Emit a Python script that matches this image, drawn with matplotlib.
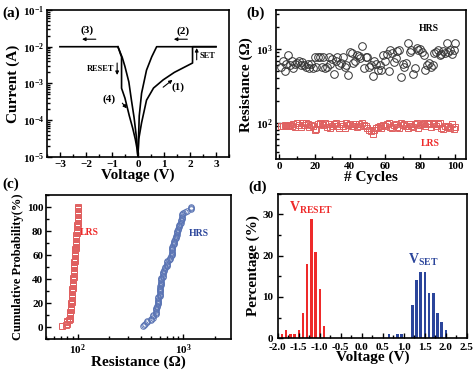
import numpy as np
import matplotlib
matplotlib.use("Agg")
import matplotlib.pyplot as plt
from matplotlib.ticker import FixedLocator, FuncFormatter, MultipleLocator, LogLocator, NullFormatter

plt.rcParams['font.family'] = ['Liberation Serif', 'DejaVu Serif']
plt.rcParams['font.weight'] = 'bold'
plt.rcParams['axes.labelweight'] = 'bold'
plt.rcParams['mathtext.fontset'] = 'custom'
plt.rcParams['mathtext.rm'] = 'Liberation Serif'
plt.rcParams['mathtext.bf'] = 'Liberation Serif:bold'
plt.rcParams['axes.linewidth'] = 1.2

# ---- (a) I-V curves ----
set_v = [0.0, 0.03, 0.14, 0.33, 0.6, 0.97, 1.4, 1.8, 2.1, 2.1, 3.0]
set_i = [1e-5, 3e-5, 8.5e-5, 3.5e-4, 7.5e-4, 1.25e-3, 2.0e-3, 2.8e-3, 3.6e-3, 1e-2, 1e-2]
ret_v = [3.0, 0.72, 0.53, 0.33, 0.14, 0.05, 0.0]
ret_i = [1e-2, 1e-2, 5.3e-3, 2.3e-3, 5.4e-4, 1.3e-4, 1e-5]
reset_v = [-3.0, -0.77, -0.72, -0.66, -0.63, -0.63, -0.5, -0.33, -0.2, -0.1, -0.03, 0.0]
reset_i = [1e-2, 1e-2, 8e-3, 6e-3, 5.3e-3, 7.4e-4, 4e-4, 1.3e-4, 6e-5, 3e-5, 1.6e-5, 1e-5]
neg_v = [-0.77, -0.6, -0.5, -0.35, -0.25, -0.15, -0.06, 0.0]
neg_i = [1e-2, 5e-3, 2.9e-3, 1.1e-3, 3.5e-4, 1.2e-4, 3.5e-5, 1e-5]

# ---- (b) endurance ----
hrs = [580, 700, 500, 620, 830, 600, 680, 560, 620, 650,
       700, 600, 660, 600, 580, 620, 560, 620, 560, 780,
       580, 780, 780, 580, 780, 560, 580, 780, 620, 740,
       460, 700, 770, 600, 640, 780, 570, 600, 440, 920,
       880, 640, 700, 820, 800, 760, 1100, 560, 780, 780,
       570, 600, 430, 680, 620, 520, 600, 520, 830, 700,
       850, 500, 980, 880, 660, 760, 950, 980, 420, 620,
       580, 640, 1200, 920, 970, 460, 560, 1050, 960, 1000,
       900, 840, 520, 600, 640, 580, 600, 880, 910, 970,
       820, 850, 930, 880, 1200, 900, 980, 860, 960, 1200]
lrs = [92, 90, 93, 90, 92, 95, 92, 96, 88, 100, 95, 88, 100, 95, 100, 98, 88, 95, 92, 80,
       84, 96, 100, 98, 94, 100, 88, 96, 85, 90, 98, 100, 92, 86, 96, 90, 86, 100, 94, 98,
       92, 90, 97, 88, 96, 92, 100, 94, 90, 85, 79, 77, 71, 80, 85, 88, 92, 86, 95, 90,
       96, 100, 88, 86, 94, 96, 88, 86, 100, 95, 96, 90, 86, 98, 92, 88, 96, 100, 86, 94,
       98, 100, 92, 96, 100, 88, 98, 100, 92, 96, 100, 85, 82, 90, 88, 92, 85, 98, 84, 88]
cycles = np.arange(1, len(hrs) + 1)

# ---- (d) voltage distributions ----
reset_bins = [-1.9, -1.8, -1.7, -1.6, -1.5, -1.4, -1.3, -1.2, -1.1, -1.0, -0.9]
reset_pct = [1, 2, 1, 1, 2, 6, 18, 29, 21, 12, 3]
set_bins = [0.65, 0.85, 0.95, 1.2, 1.3, 1.4, 1.5, 1.6, 1.7, 1.8, 1.9, 2.0]
set_pct = [1, 1, 1, 8, 14, 16, 16, 11, 11, 6, 4, 2]

red = '#ee2a2a'
blue = '#2b459b'
lab_fs = 11
tick_fs = 8


def bold_pow(x, pos):
    e = int(round(np.log10(x)))
    return r'$\mathbf{10^{%d}}$' % e


def style(ax):
    ax.tick_params(which='both', direction='in', labelsize=tick_fs, width=1, pad=2)
    ax.tick_params(which='major', length=3.5)
    ax.tick_params(which='minor', length=2)
    for lab in ax.get_xticklabels() + ax.get_yticklabels():
        lab.set_fontweight('bold')


fig = plt.figure(figsize=(4.74, 3.70), dpi=100)

# (a)
ax = fig.add_axes([0.099, 0.576, 0.384, 0.397])
for v, i in [(set_v, set_i), (ret_v, ret_i), (reset_v, reset_i), (neg_v, neg_i)]:
    ax.plot(v, i, color='k', lw=1.2)
ax.set_yscale('log')
ax.set_xlim(-3.5, 3.5)
ax.set_ylim(1e-5, 1e-1)
ax.xaxis.set_major_locator(MultipleLocator(1))
ax.xaxis.set_minor_locator(MultipleLocator(0.5))
ax.yaxis.set_major_locator(FixedLocator([1e-5, 1e-4, 1e-3, 1e-2, 1e-1]))
ax.yaxis.set_major_formatter(FuncFormatter(bold_pow))
ax.yaxis.set_minor_formatter(NullFormatter())
ax.set_xlabel('Voltage (V)', fontsize=lab_fs, labelpad=0)
ax.set_ylabel('Current (A)', fontsize=lab_fs, labelpad=2)
style(ax)
arw = dict(arrowstyle='-|>', lw=0.8, color='k', mutation_scale=5, shrinkA=0, shrinkB=0)
ax.text(-1.95, 2.9e-2, '(3)', fontsize=8, ha='center', va='center')
ax.annotate('', xy=(-2.15, 1.6e-2), xytext=(-1.62, 1.6e-2), arrowprops=arw)
ax.text(1.75, 2.6e-2, '(2)', fontsize=8, ha='center', va='center')
ax.annotate('', xy=(1.38, 1.6e-2), xytext=(1.9, 1.6e-2), arrowprops=arw)
ax.annotate('', xy=(2.26, 9.2e-3), xytext=(2.26, 4.4e-3), arrowprops=arw)
ax.text(2.38, 5.6e-3, 'SET', fontsize=6, ha='left', va='center')
ax.annotate('', xy=(-0.8, 1.7e-3), xytext=(-0.8, 3.6e-3), arrowprops=arw)
ax.text(-0.92, 2.5e-3, 'RESET', fontsize=6, ha='right', va='center')
ax.text(-1.1, 3.7e-4, '(4)', fontsize=8, ha='center', va='center')
ax.annotate('', xy=(-0.43, 2.1e-4), xytext=(-0.6, 2.9e-4), arrowprops=arw)
ax.text(1.55, 7.9e-4, '(1)', fontsize=8, ha='center', va='center')
ax.annotate('', xy=(1.33, 1.25e-3), xytext=(0.97, 7.9e-4), arrowprops=arw)

# (b)
ax = fig.add_axes([0.582, 0.570, 0.401, 0.403])
ax.plot(cycles, hrs, 'o', mfc='none', mec='#333333', ms=5.5, mew=0.7)
ax.plot(cycles, lrs, 's', mfc='none', mec='#e06060', ms=4.5, mew=0.7)
ax.set_yscale('log')
ax.set_xlim(-2, 106)
ax.set_ylim(10 ** 1.51, 10 ** 3.53)
ax.xaxis.set_major_locator(MultipleLocator(20))
ax.xaxis.set_minor_locator(MultipleLocator(10))
ax.yaxis.set_major_locator(FixedLocator([1e2, 1e3]))
ax.yaxis.set_major_formatter(FuncFormatter(bold_pow))
ax.yaxis.set_minor_locator(LogLocator(subs=np.arange(2, 10)))
ax.yaxis.set_minor_formatter(NullFormatter())
ax.set_xlabel('# Cycles', fontsize=lab_fs, labelpad=0)
ax.set_ylabel('Resistance (\u03a9)', fontsize=lab_fs, labelpad=2)
style(ax)
ax.text(85, 1900, 'HRS', fontsize=7, ha='center', va='center')
ax.text(86, 53, 'LRS', fontsize=7, ha='center', va='center', color=red)

# (c)
ax = fig.add_axes([0.097, 0.083, 0.390, 0.390])
n = len(lrs)
prob = np.arange(1, n + 1) / n * 100
ax.plot(np.sort(lrs), prob, 's', mfc='none', mec='#e06060', ms=4, mew=0.7)
ax.plot(np.sort(hrs), prob, 'o', mfc='none', mec='#5a74b4', ms=4, mew=0.7)
ax.set_xscale('log')
ax.set_xlim(50, 2850)
ax.set_ylim(-10, 110)
ax.yaxis.set_major_locator(MultipleLocator(20))
ax.yaxis.set_minor_locator(MultipleLocator(10))
ax.xaxis.set_major_locator(FixedLocator([1e2, 1e3]))
ax.xaxis.set_major_formatter(FuncFormatter(bold_pow))
ax.xaxis.set_minor_locator(LogLocator(subs=np.arange(2, 10)))
ax.xaxis.set_minor_formatter(NullFormatter())
ax.set_xlabel('Resistance (\u03a9)', fontsize=lab_fs, labelpad=-1)
ax.set_ylabel('Cumulative Probability(%)', fontsize=9, labelpad=2)
style(ax)
ax.text(130, 79, 'LRS', fontsize=7, ha='center', va='center', color=red)
ax.text(1430, 78, 'HRS', fontsize=7, ha='center', va='center', color=blue)

# (d)
ax = fig.add_axes([0.586, 0.086, 0.399, 0.390])
ax.bar(reset_bins, reset_pct, width=0.06, color=red)
ax.bar(set_bins, set_pct, width=0.06, color=blue)
ax.set_xlim(-2.0, 2.5)
ax.set_ylim(0, 35)
ax.xaxis.set_major_locator(MultipleLocator(0.5))
ax.xaxis.set_minor_locator(MultipleLocator(0.25))
ax.xaxis.set_major_formatter(FuncFormatter(lambda x, p: '%.1f' % x))
ax.yaxis.set_major_locator(MultipleLocator(10))
ax.yaxis.set_minor_locator(MultipleLocator(5))
ax.set_xlabel('Voltage (V)', fontsize=lab_fs, labelpad=-1)
ax.set_ylabel('Percentage (%)', fontsize=lab_fs, labelpad=2)
style(ax)
ax.tick_params(axis='x', pad=3.5)
ax.tick_params(axis='y', pad=3)
ax.text(-1.2, 31.6, r'$\mathbf{V_{RESET}}$', fontsize=10, ha='center', va='center', color=red)
ax.text(1.46, 18.9, r'$\mathbf{V_{SET}}$', fontsize=10, ha='center', va='center', color=blue)

for x, y, s in [(0.005, 0.965, '(a)'), (0.52, 0.965, '(b)'), (0.005, 0.503, '(c)'), (0.525, 0.495, '(d)')]:
    fig.text(x, y, s, fontsize=11, fontweight='bold', ha='left', va='center')

fig.savefig('out.png', dpi=100)
